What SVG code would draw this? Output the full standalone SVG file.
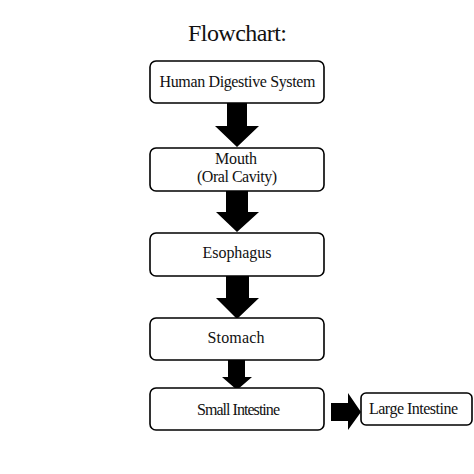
<svg xmlns="http://www.w3.org/2000/svg" width="474" height="474" viewBox="0 0 474 474">
<style>
.box{fill:#fff;stroke:#000;stroke-width:1.6}
.t{font-family:"Liberation Serif","Times New Roman",serif;font-size:16px;fill:#111;text-anchor:middle}
.arr{fill:#000}
</style>
<rect width="474" height="474" fill="#fff"/>
<text x="237.5" y="41" font-family="Liberation Serif, Times New Roman, serif" font-size="24" text-anchor="middle" fill="#111" textLength="99">Flowchart:</text>
<g id="connectors">
<polygon class="arr" points="227,103 247,103 247,126 259,126 237,147 215,126 227,126"/>
<polygon class="arr" points="226,191 248,191 248,212 259,212 237,232 216,212 226,212"/>
<polygon class="arr" points="226,276 249,276 249,298 259,298 237,319 216,298 226,298"/>
<polygon class="arr" points="228,360 245,360 245,377 252,377 237,390 222,377 228,377"/>
<polygon class="arr" points="331,403 348,403 348,393 361,412 348,430 348,421 331,421"/>
</g>
<g id="n1"><rect class="box" x="150" y="61" width="174" height="42" rx="6"/><text class="t" x="237.5" y="87" textLength="156">Human Digestive System</text></g>
<g id="n2"><rect class="box" x="150" y="148" width="174" height="43" rx="6"/><text class="t" x="236" y="164" textLength="42">Mouth</text><text class="t" x="237" y="182" textLength="80">(Oral Cavity)</text></g>
<g id="n3"><rect class="box" x="150" y="233" width="174" height="43" rx="6"/><text class="t" x="237" y="258" textLength="69">Esophagus</text></g>
<g id="n4"><rect class="box" x="150" y="318" width="174" height="42" rx="6"/><text class="t" x="236" y="343" textLength="57">Stomach</text></g>
<g id="n5"><rect class="box" x="150" y="388" width="174" height="42" rx="6"/><text class="t" x="238.5" y="415" textLength="83">Small Intestine</text></g>
<g id="n6"><rect class="box" x="361" y="393" width="111" height="32" rx="5"/><text class="t" x="413.5" y="414" textLength="89">Large Intestine</text></g>
</svg>
